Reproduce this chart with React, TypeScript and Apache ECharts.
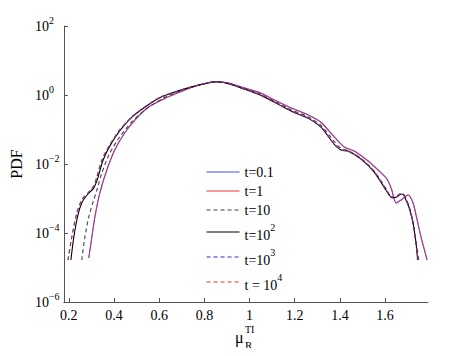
import React, { useEffect, useRef } from "react";
import * as echarts from "echarts";

type Pt = [number, number];

const seriesNames = ["t=0.1", "t=1", "t=10", "t=10^2", "t=10^3", "t = 10^4"];
const seriesColors = ["#4848f0", "#f03030", "#444444", "#000000", "#2a2ad0", "#e83030"];
const seriesDash: (number[] | "solid")[] = ["solid", "solid", [4, 3], "solid", [4, 3], [4, 3]];

const xTicks = [0.2, 0.4, 0.6, 0.8, 1, 1.2, 1.4, 1.6];

// t = 0.1 and t = 1 (overlapping curves)
const pdfEarly: Pt[] = [
  [0.288, 1.88e-5], [0.302, 7.7e-5], [0.315, 2.9e-4], [0.337, 1.44e-3], [0.368, 6.7e-3],
  [0.403, 0.0255], [0.447, 0.079], [0.492, 0.188], [0.553, 0.449], [0.611, 0.72],
  [0.668, 1.05], [0.743, 1.66], [0.81, 2.18], [0.854, 2.42], [0.907, 2.23],
  [0.964, 1.71], [1.039, 1.22], [1.11, 0.716], [1.185, 0.42], [1.26, 0.263],
  [1.317, 0.16], [1.375, 0.0607], [1.419, 0.0311], [1.463, 0.0238], [1.525, 0.0122],
  [1.569, 0.0067], [1.605, 0.00393], [1.627, 0.00201], [1.649, 7.4e-4], [1.671, 9.06e-4],
  [1.702, 1.26e-3], [1.724, 7.4e-4], [1.737, 3.3e-4], [1.759, 7.7e-5], [1.786, 1.65e-5],
];

// t = 10
const pdfT10: Pt[] = [
  [0.257, 1.65e-5], [0.271, 7.7e-5], [0.288, 2.9e-4], [0.31, 9.1e-4], [0.324, 1.76e-3],
  [0.346, 5.5e-3], [0.381, 0.0208], [0.425, 0.0607], [0.478, 0.165], [0.536, 0.367],
  [0.611, 0.77], [0.668, 1.14], [0.743, 1.71], [0.81, 2.2], [0.854, 2.42],
  [0.907, 2.18], [0.964, 1.65], [1.039, 1.12], [1.11, 0.66], [1.185, 0.37],
  [1.26, 0.232], [1.317, 0.13], [1.375, 0.045], [1.406, 0.028], [1.437, 0.0245],
  [1.494, 0.0145], [1.552, 0.0062], [1.605, 0.0019], [1.631, 0.00105], [1.649, 0.00105],
  [1.666, 0.0013], [1.68, 0.00135], [1.693, 9.5e-4], [1.706, 6e-4], [1.724, 2.1e-4],
  [1.737, 5.5e-5], [1.749, 1.65e-5],
];

// t = 10^2
const pdfT100: Pt[] = [
  [0.209, 1.65e-5], [0.222, 7.7e-5], [0.24, 3.3e-4], [0.257, 7.4e-4], [0.284, 1.35e-3],
  [0.31, 2.0e-3], [0.328, 3.9e-3], [0.35, 0.0122], [0.381, 0.033], [0.425, 0.091],
  [0.478, 0.225], [0.536, 0.44], [0.598, 0.8], [0.655, 1.14], [0.743, 1.72],
  [0.81, 2.2], [0.854, 2.42], [0.907, 2.13], [0.964, 1.58], [1.039, 1.05],
  [1.11, 0.62], [1.185, 0.34], [1.26, 0.21], [1.317, 0.115], [1.375, 0.037],
  [1.406, 0.025], [1.437, 0.0235], [1.494, 0.0138], [1.552, 0.0058], [1.605, 0.0017],
  [1.631, 0.00105], [1.649, 0.00108], [1.666, 0.00135], [1.68, 0.00132], [1.693, 8.8e-4],
  [1.706, 5.5e-4], [1.724, 1.9e-4], [1.737, 5e-5], [1.744, 1.65e-5],
];

// t = 10^3 and t = 10^4 (overlapping curves)
const pdfLate: Pt[] = [
  [0.196, 1.65e-5], [0.213, 7.7e-5], [0.235, 3.8e-4], [0.257, 9.1e-4], [0.288, 1.54e-3],
  [0.31, 2.3e-3], [0.324, 4.2e-3], [0.346, 0.0131], [0.381, 0.0356], [0.425, 0.097],
  [0.478, 0.23], [0.536, 0.449], [0.598, 0.82], [0.655, 1.14], [0.743, 1.71],
  [0.81, 2.23], [0.854, 2.42], [0.907, 2.15], [0.964, 1.6], [1.039, 1.07],
  [1.11, 0.627], [1.185, 0.344], [1.26, 0.215], [1.317, 0.118], [1.375, 0.038],
  [1.406, 0.0255], [1.437, 0.0238], [1.494, 0.014], [1.552, 0.00586], [1.605, 0.00176],
  [1.631, 0.0011], [1.649, 0.0011], [1.666, 0.00135], [1.68, 0.00135], [1.693, 9.1e-4],
  [1.706, 5.7e-4], [1.724, 1.95e-4], [1.737, 5.1e-5], [1.746, 1.65e-5],
];

const seriesData: Pt[][] = [pdfEarly, pdfEarly, pdfT10, pdfT100, pdfLate, pdfLate];

const FONT = "Liberation Serif";

export default function App() {
  const ref = useRef<HTMLDivElement>(null);
  useEffect(() => {
    if (!ref.current) return;
    const chart = echarts.init(ref.current, undefined, { renderer: "svg" });
    const mkRich = (supLine: number) => ({
      b: { fontFamily: FONT, fontSize: 14, color: "#000", verticalAlign: "bottom", lineHeight: 14 },
      s: { fontFamily: FONT, fontSize: 10, color: "#000", verticalAlign: "top", lineHeight: supLine },
    });
    chart.setOption({
      animation: false,
      grid: { left: 62, right: 46, top: 26, bottom: 54, containLabel: false },
      legend: {
        orient: "vertical",
        left: 206,
        top: 165,
        padding: 0,
        itemWidth: 33,
        itemHeight: 14,
        itemGap: 5,
        data: seriesNames,
        itemStyle: { opacity: 0 },
        lineStyle: { width: 1.1, opacity: 1 },
        textStyle: { fontFamily: FONT, fontSize: 14, color: "#000", rich: mkRich(20) },
        formatter: (name: string) => {
          const m = name.match(/^(.*)\^(\d+)$/);
          if (m) return `{b|${m[1]}}{s|${m[2]}}`;
          return `{b|${name}}`;
        },
      },
      xAxis: {
        type: "value",
        min: 0.178,
        max: 1.79,
        splitLine: { show: false },
        axisLine: { lineStyle: { color: "#555", width: 1 } },
        axisTick: { inside: true, length: 4, lineStyle: { color: "#555" }, customValues: xTicks },
        axisLabel: {
          customValues: xTicks,
          fontFamily: FONT,
          fontSize: 14,
          color: "#000",
          margin: 6,
          formatter: (v: number) => String(Math.round(v * 10) / 10),
        },
      },
      yAxis: {
        type: "log",
        logBase: 10,
        min: 1e-6,
        max: 1e2,
        interval: 2,
        splitLine: { show: false },
        minorTick: { show: false },
        axisLine: { show: true, lineStyle: { color: "#555", width: 1 } },
        axisTick: { show: true, inside: true, length: 4, lineStyle: { color: "#555" } },
        axisLabel: {
          align: "left",
          margin: 29,
          padding: [0, 0, 4, 0],
          formatter: (v: number) => {
            const e = Math.round(Math.log10(v));
            return `{b|10}{s|${e < 0 ? "\u2212" + -e : e}}`;
          },
          rich: mkRich(18),
        },
        name: "PDF",
        nameLocation: "middle",
        nameGap: 37,
        nameRotate: 90,
        nameTextStyle: { fontFamily: FONT, fontSize: 16, color: "#000" },
      },
      series: seriesNames.map((name, i) => ({
        name,
        type: "line",
        data: seriesData[i],
        symbol: "none",
        smooth: 0.25,
        lineStyle: {
          color: seriesColors[i],
          width: 1.1,
          type: seriesDash[i],
          opacity: i === 1 || i === 5 ? 0.6 : 1,
        },
        itemStyle: { color: seriesColors[i] },
      })),
      graphic: [
        { type: "text", left: 235, top: 329, style: { text: "μ", font: `16px ${FONT}`, fill: "#000" } },
        { type: "text", left: 245, top: 324, style: { text: "TI", font: `10px ${FONT}`, fill: "#000" } },
        { type: "text", left: 245, top: 339, style: { text: "R", font: `11px ${FONT}`, fill: "#000" } },
      ],
    });
    return () => chart.dispose();
  }, []);
  return <div ref={ref} style={{ width: 474, height: 356, margin: -8 }} />;
}
